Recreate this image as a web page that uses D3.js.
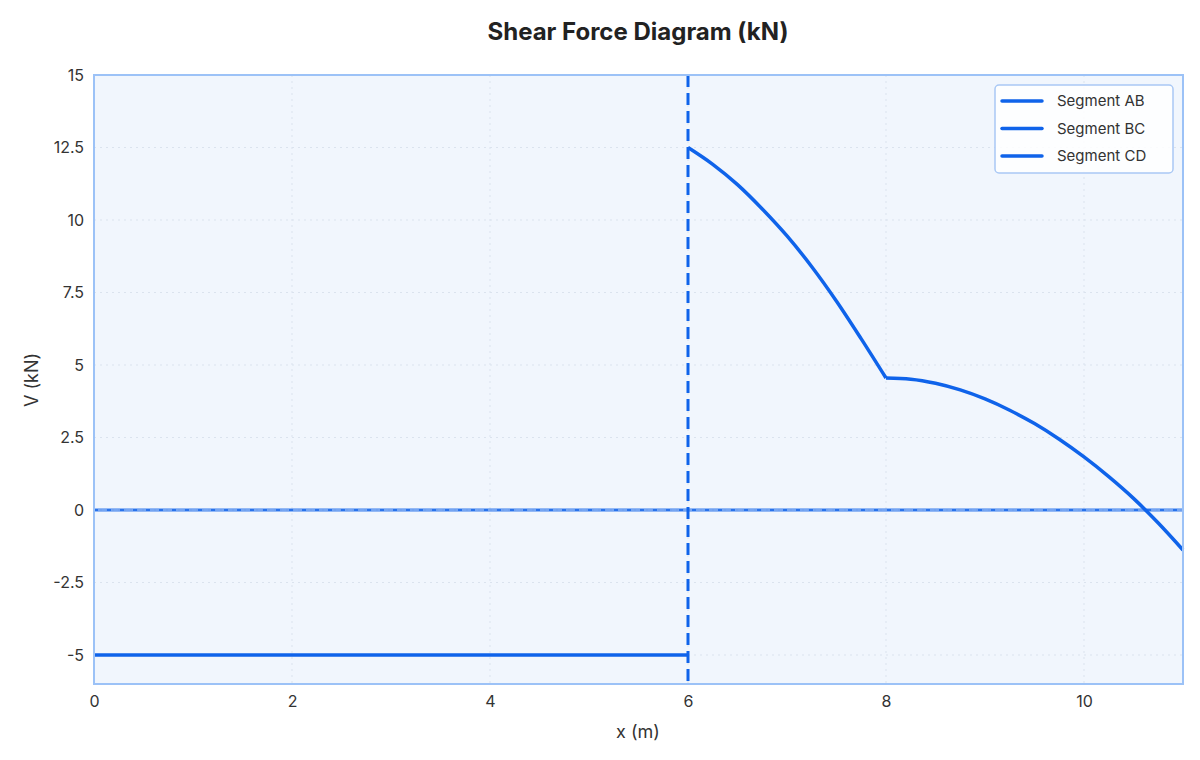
<!DOCTYPE html>
<html>
<head>
<meta charset="utf-8">
<script src="https://cdn.jsdelivr.net/npm/d3@7"></script>
<style>
body{margin:0;background:#fff;font-family:Inter,"Open Sans",sans-serif;}
</style>
</head>
<body>
<svg id="chart" width="1200" height="760"></svg>
<script>
// data
var abX=[0,6];
var abV=[-5,-5];
var bcX=[6,6.25,6.5,6.75,7,7.25,7.5,7.75,8];
var bcV=[12.5,11.92,11.22,10.38,9.45,8.39,7.2,5.9,4.55];
var cdX=[8,8.25,8.5,8.75,9,9.25,9.5,9.75,10,10.25,10.5,10.75,11];
var cdV=[4.55,4.51,4.37,4.14,3.83,3.44,2.98,2.44,1.83,1.15,0.4,-0.45,-1.38];
var xTicks=[0,2,4,6,8,10];
var yTicks=[-5,-2.5,0,2.5,5,7.5,10,12.5,15];
var names=["Segment AB","Segment BC","Segment CD"];

var svg=d3.select("#chart");
var m={l:94,r:1183,t:75,b:684};
var x=d3.scaleLinear().domain([0,11]).range([m.l,m.r]);
var y=d3.scaleLinear().domain([-6,15]).range([m.b,m.t]);
var blue="#0f63ea";
var fmt=function(d){return String(d);};

svg.append("rect").attr("x",m.l).attr("y",m.t).attr("width",m.r-m.l).attr("height",m.b-m.t)
  .attr("fill","#f1f6fd");

// grid
svg.append("g").selectAll("line").data(xTicks).enter().append("line")
  .attr("x1",d=>x(d)).attr("x2",d=>x(d)).attr("y1",m.t).attr("y2",m.b)
  .attr("stroke","#dbe3ee").attr("stroke-dasharray","2,4");
svg.append("g").selectAll("line").data(yTicks).enter().append("line")
  .attr("x1",m.l).attr("x2",m.r).attr("y1",d=>y(d)).attr("y2",d=>y(d))
  .attr("stroke","#dbe3ee").attr("stroke-dasharray","2,4");

// axes
var xa=svg.append("g").attr("transform","translate(0,"+m.b+")")
  .call(d3.axisBottom(x).tickValues(xTicks).tickSize(0).tickPadding(12).tickFormat(fmt));
var ya=svg.append("g").attr("transform","translate("+m.l+",0)")
  .call(d3.axisLeft(y).tickValues(yTicks).tickSize(0).tickPadding(10).tickFormat(fmt));
[xa,ya].forEach(function(a){
  a.select(".domain").remove();
  a.selectAll("text").attr("font-size",16).attr("fill","#333").attr("font-family","Inter,sans-serif");
});

// zero line
svg.append("line").attr("x1",m.l).attr("x2",m.r).attr("y1",y(0)).attr("y2",y(0))
  .attr("stroke",blue).attr("stroke-opacity",0.55).attr("stroke-width",3.5);
svg.append("line").attr("x1",m.l).attr("x2",m.r).attr("y1",y(0)).attr("y2",y(0))
  .attr("stroke",blue).attr("stroke-width",1.5).attr("stroke-dasharray","4,9");

// vertical dashed line at B
svg.append("line").attr("x1",x(6)).attr("x2",x(6)).attr("y1",m.t).attr("y2",m.b)
  .attr("stroke",blue).attr("stroke-width",3).attr("stroke-dasharray","12,6");

var line=d3.line().x(d=>x(d[0])).y(d=>y(d[1])).curve(d3.curveMonotoneX);
[[abX,abV],[bcX,bcV],[cdX,cdV]].forEach(function(s){
  svg.append("path").datum(d3.zip(s[0],s[1])).attr("d",line)
    .attr("fill","none").attr("stroke",blue).attr("stroke-width",3.5).attr("stroke-linejoin","round");
});

// frame
svg.append("rect").attr("x",m.l).attr("y",m.t).attr("width",m.r-m.l).attr("height",m.b-m.t)
  .attr("fill","none").attr("stroke","#9cc2f7").attr("stroke-width",2);

// legend
var lg=svg.append("g").attr("transform","translate(995,85)");
lg.append("rect").attr("width",178).attr("height",88).attr("rx",4)
  .attr("fill","#fff").attr("fill-opacity",0.85).attr("stroke","#a9c8f5").attr("stroke-width",1.5);
names.forEach(function(n,i){
  var yy=16+i*27.5;
  lg.append("line").attr("x1",7).attr("x2",47).attr("y1",yy).attr("y2",yy)
    .attr("stroke",blue).attr("stroke-width",3.5).attr("stroke-linecap","round");
  lg.append("text").attr("x",62).attr("y",yy+5).text(n)
    .attr("font-size",15).attr("fill","#333");
});

// titles
svg.append("text").attr("x",638).attr("y",40).attr("text-anchor","middle")
  .attr("font-size",24).attr("font-weight","bold").attr("fill","#222").text("Shear Force Diagram (kN)");
svg.append("text").attr("x",638).attr("y",738).attr("text-anchor","middle")
  .attr("font-size",18).attr("fill","#333").text("x (m)");
svg.append("text").attr("transform","translate(38,380) rotate(-90)").attr("text-anchor","middle")
  .attr("font-size",18).attr("fill","#333").text("V (kN)");
</script>
</body>
</html>
